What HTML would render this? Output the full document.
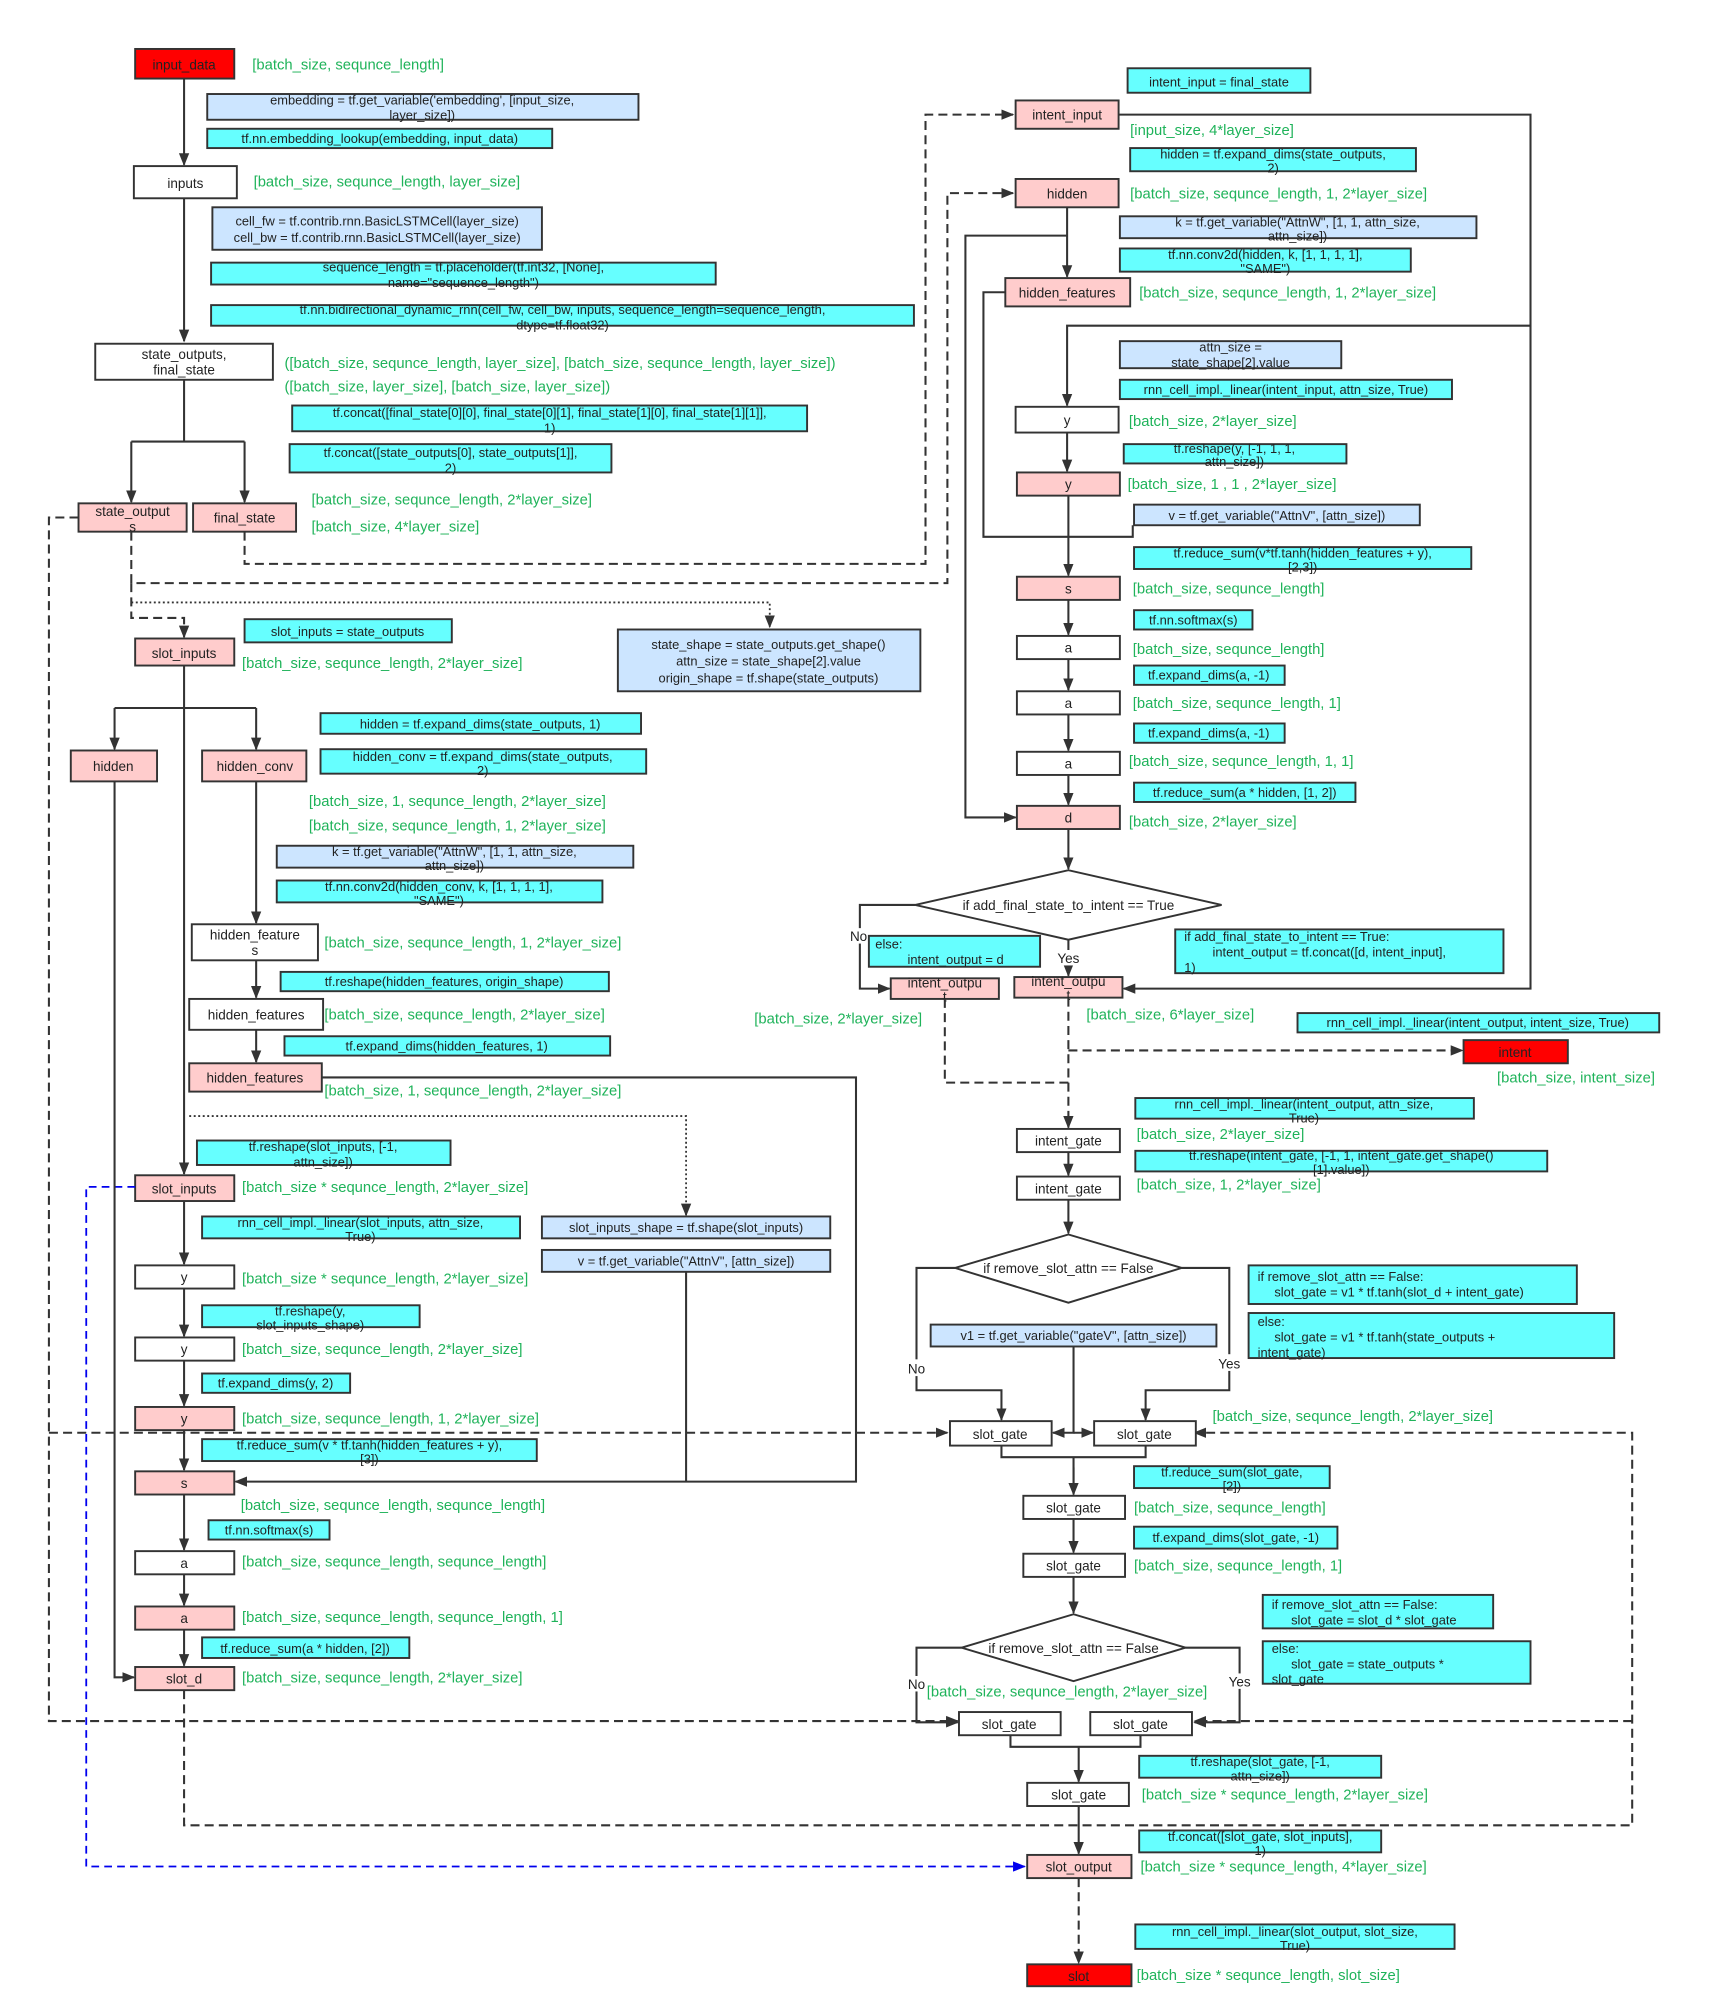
<!DOCTYPE html>
<html><head><meta charset="utf-8"><style>
html,body{margin:0;padding:0;background:#fff;width:1712px;height:2003px;overflow:hidden}
svg{display:block}
text{font-family:"Liberation Sans",sans-serif}
.g{fill:#1fb35a;font-size:11.5px}
.c{font-size:10px;fill:#222;text-anchor:middle}
.n{font-size:10.5px;fill:#222;text-anchor:middle}
.bx{stroke:#333;stroke-width:1.5}
.ln{stroke:#333;stroke-width:1.6;fill:none}
.ds{stroke:#333;stroke-width:1.6;fill:none;stroke-dasharray:7,4}
.dt{stroke:#333;stroke-width:1.4;fill:none;stroke-dasharray:1.5,2}
.bl{stroke:#0000ee;stroke-width:1.4;fill:none;stroke-dasharray:6,4}
.cy{fill:#66ffff}.lb{fill:#cce5ff}.pk{fill:#ffcccc}.rd{fill:#ff0000}.wh{fill:#fff}
</style></head><body>
<svg width="1712" height="2003" viewBox="0 0 1330 1556" xmlns="http://www.w3.org/2000/svg">
<defs>
<marker id="a" markerWidth="10" markerHeight="10" refX="9" refY="5" orient="auto" markerUnits="userSpaceOnUse"><path d="M0,1 L10,5 L0,9 z" fill="#333"/></marker>
<marker id="ab" markerWidth="10" markerHeight="10" refX="9" refY="5" orient="auto" markerUnits="userSpaceOnUse"><path d="M0,1 L10,5 L0,9 z" fill="#0000ee"/></marker>
</defs>

<!-- ============ LEFT COLUMN ============ -->
<path class="ln" d="M143,61 V128" marker-end="url(#a)"/>
<path class="ln" d="M143,154 V265" marker-end="url(#a)"/>
<path class="ln" d="M143,295 V343 M102,343 H190"/>
<path class="ln" d="M102,343 V390" marker-end="url(#a)"/>
<path class="ln" d="M190,343 V390" marker-end="url(#a)"/>

<rect class="bx rd" x="105" y="38" width="77" height="23"/><text class="n" x="143" y="54" fill="#222">input_data</text>
<text class="g" x="196" y="54">[batch_size, sequnce_length]</text>
<rect class="bx lb" x="161" y="73" width="335" height="20"/><text class="c" x="328" y="81">embedding = tf.get_variable('embedding', [input_size,</text><text class="c" x="328" y="93">layer_size])</text>
<rect class="bx cy" x="161" y="100" width="268" height="15"/><text class="c" x="295" y="111">tf.nn.embedding_lookup(embedding, input_data)</text>
<rect class="bx wh" x="104" y="129" width="80" height="25"/><text class="n" x="144" y="146">inputs</text>
<text class="g" x="197" y="145">[batch_size, sequnce_length, layer_size]</text>
<rect class="bx lb" x="165" y="161" width="256" height="33"/><text class="c" x="293" y="175">cell_fw = tf.contrib.rnn.BasicLSTMCell(layer_size)</text><text class="c" x="293" y="188">cell_bw = tf.contrib.rnn.BasicLSTMCell(layer_size)</text>
<rect class="bx cy" x="164" y="204" width="392" height="17"/><text class="c" x="360" y="211">sequence_length = tf.placeholder(tf.int32, [None],</text><text class="c" x="360" y="223">name="sequence_length")</text>
<rect class="bx cy" x="164" y="237" width="546" height="16"/><text class="c" x="437" y="244">tf.nn.bidirectional_dynamic_rnn(cell_fw, cell_bw, inputs, sequence_length=sequence_length,</text><text class="c" x="437" y="256">dtype=tf.float32)</text>
<rect class="bx wh" x="74" y="267" width="138" height="28"/><text class="n" x="143" y="279">state_outputs,</text><text class="n" x="143" y="291">final_state</text>
<text class="g" x="221" y="286">([batch_size, sequnce_length, layer_size],   [batch_size, sequnce_length, layer_size])</text>
<text class="g" x="221" y="304">([batch_size, layer_size],   [batch_size, layer_size])</text>
<rect class="bx cy" x="227" y="315" width="400" height="20"/><text class="c" x="427" y="324">tf.concat([final_state[0][0], final_state[0][1], final_state[1][0], final_state[1][1]],</text><text class="c" x="427" y="336">1)</text>
<rect class="bx cy" x="225" y="345" width="250" height="22"/><text class="c" x="350" y="355">tf.concat([state_outputs[0], state_outputs[1]],</text><text class="c" x="350" y="367">2)</text>
<rect class="bx pk" x="61" y="391" width="84" height="22"/><text class="n" x="103" y="401">state_output</text><text class="n" x="103" y="413">s</text>
<rect class="bx pk" x="150" y="391" width="80" height="22"/><text class="n" x="190" y="406">final_state</text>
<text class="g" x="242" y="392">[batch_size, sequnce_length, 2*layer_size]</text>
<text class="g" x="242" y="413">[batch_size, 4*layer_size]</text>

<!-- dashed connectors from state_outputs/final_state -->
<path class="ds" d="M190,413 V438 H719 V89 H787" marker-end="url(#a)"/>
<path class="ds" d="M102,413 V453 H736 V150 H787" marker-end="url(#a)"/>
<path class="ds" d="M102,453 V480 H143 V495" marker-end="url(#a)"/>
<path class="dt" d="M102,468 H598 V487" marker-end="url(#a)"/>
<path class="ds" d="M61,402 H38 V1337 H744" marker-end="url(#a)"/>
<path class="ds" d="M38,1113 H736" marker-end="url(#a)"/>

<rect class="bx cy" x="190" y="481" width="161" height="18"/><text class="c" x="270" y="494">slot_inputs = state_outputs</text>
<rect class="bx lb" x="480" y="489" width="235" height="48"/><text class="c" x="597" y="504">state_shape = state_outputs.get_shape()</text><text class="c" x="597" y="517">attn_size = state_shape[2].value</text><text class="c" x="597" y="530">origin_shape = tf.shape(state_outputs)</text>
<rect class="bx pk" x="105" y="496" width="77" height="21"/><text class="n" x="143" y="511">slot_inputs</text>
<text class="g" x="188" y="519">[batch_size, sequnce_length, 2*layer_size]</text>

<path class="ln" d="M143,517 V912" marker-end="url(#a)"/>
<path class="ln" d="M89,550 H199"/>
<path class="ln" d="M89,550 V582" marker-end="url(#a)"/>
<path class="ln" d="M199,550 V582" marker-end="url(#a)"/>
<rect class="bx pk" x="55" y="583" width="67" height="24"/><text class="n" x="88" y="599">hidden</text>
<rect class="bx pk" x="157" y="583" width="81" height="24"/><text class="n" x="198" y="599">hidden_conv</text>
<rect class="bx cy" x="249" y="554" width="249" height="16"/><text class="c" x="373" y="566">hidden = tf.expand_dims(state_outputs, 1)</text>
<rect class="bx cy" x="249" y="582" width="253" height="19"/><text class="c" x="375" y="591">hidden_conv = tf.expand_dims(state_outputs,</text><text class="c" x="375" y="602">2)</text>
<text class="g" x="240" y="626">[batch_size, 1, sequnce_length, 2*layer_size]</text>
<text class="g" x="240" y="645">[batch_size, sequnce_length, 1, 2*layer_size]</text>
<rect class="bx lb" x="215" y="657" width="277" height="17"/><text class="c" x="353" y="665">k = tf.get_variable("AttnW", [1, 1, attn_size,</text><text class="c" x="353" y="676">attn_size])</text>
<rect class="bx cy" x="215" y="684" width="253" height="17"/><text class="c" x="341" y="692">tf.nn.conv2d(hidden_conv, k, [1, 1, 1, 1],</text><text class="c" x="341" y="703">"SAME")</text>
<path class="ln" d="M199,607 V717" marker-end="url(#a)"/>
<rect class="bx wh" x="149" y="718" width="98" height="28"/><text class="n" x="198" y="730">hidden_feature</text><text class="n" x="198" y="742">s</text>
<text class="g" x="252" y="736">[batch_size, sequnce_length, 1, 2*layer_size]</text>
<rect class="bx cy" x="218" y="755" width="255" height="15"/><text class="c" x="345" y="766">tf.reshape(hidden_features, origin_shape)</text>
<path class="ln" d="M199,746 V775" marker-end="url(#a)"/>
<rect class="bx wh" x="147" y="776" width="104" height="24"/><text class="n" x="199" y="792">hidden_features</text>
<text class="g" x="252" y="792">[batch_size, sequnce_length, 2*layer_size]</text>
<rect class="bx cy" x="221" y="805" width="253" height="15"/><text class="c" x="347" y="816">tf.expand_dims(hidden_features, 1)</text>
<path class="ln" d="M199,800 V825" marker-end="url(#a)"/>
<rect class="bx pk" x="147" y="826" width="103" height="22"/><text class="n" x="198" y="841">hidden_features</text>
<text class="g" x="252" y="851">[batch_size, 1, sequnce_length, 2*layer_size]</text>
<path class="ln" d="M250,837 H665 V1151 H183" marker-end="url(#a)"/>
<path class="dt" d="M147,867 H533 V944" marker-end="url(#a)"/>

<rect class="bx cy" x="153" y="886" width="197" height="19"/><text class="c" x="251" y="894">tf.reshape(slot_inputs, [-1,</text><text class="c" x="251" y="906">attn_size])</text>
<rect class="bx pk" x="105" y="913" width="77" height="20"/><text class="n" x="143" y="927">slot_inputs</text>
<text class="g" x="188" y="926">[batch_size * sequnce_length, 2*layer_size]</text>
<path class="bl" d="M105,922 H67 V1450 H796" marker-end="url(#ab)"/>
<rect class="bx lb" x="421" y="945" width="224" height="17"/><text class="c" x="533" y="957">slot_inputs_shape = tf.shape(slot_inputs)</text>
<rect class="bx lb" x="421" y="971" width="224" height="17"/><text class="c" x="533" y="983">v = tf.get_variable("AttnV", [attn_size])</text>
<path class="ln" d="M533,988 V1151"/>
<rect class="bx cy" x="157" y="945" width="247" height="17"/><text class="c" x="280" y="953">rnn_cell_impl._linear(slot_inputs, attn_size,</text><text class="c" x="280" y="964">True)</text>
<path class="ln" d="M143,933 V982" marker-end="url(#a)"/>
<rect class="bx wh" x="105" y="983" width="77" height="18"/><text class="n" x="143" y="996">y</text>
<text class="g" x="188" y="997">[batch_size * sequnce_length, 2*layer_size]</text>
<rect class="bx cy" x="157" y="1014" width="169" height="17"/><text class="c" x="241" y="1022">tf.reshape(y,</text><text class="c" x="241" y="1033">slot_inputs_shape)</text>
<path class="ln" d="M143,1001 V1038" marker-end="url(#a)"/>
<rect class="bx wh" x="105" y="1039" width="77" height="18"/><text class="n" x="143" y="1052">y</text>
<text class="g" x="188" y="1052">[batch_size, sequnce_length, 2*layer_size]</text>
<rect class="bx cy" x="157" y="1067" width="115" height="15"/><text class="c" x="214" y="1078">tf.expand_dims(y, 2)</text>
<path class="ln" d="M143,1057 V1092" marker-end="url(#a)"/>
<rect class="bx pk" x="105" y="1093" width="77" height="18"/><text class="n" x="143" y="1106">y</text>
<text class="g" x="188" y="1106">[batch_size, sequnce_length, 1, 2*layer_size]</text>
<rect class="bx cy" x="157" y="1118" width="260" height="17"/><text class="c" x="287" y="1126">tf.reduce_sum(v * tf.tanh(hidden_features + y),</text><text class="c" x="287" y="1137">[3])</text>
<path class="ln" d="M143,1111 V1142" marker-end="url(#a)"/>
<rect class="bx pk" x="105" y="1143" width="77" height="18"/><text class="n" x="143" y="1156">s</text>
<text class="g" x="187" y="1173">[batch_size, sequnce_length, sequnce_length]</text>
<rect class="bx cy" x="162" y="1181" width="94" height="15"/><text class="c" x="209" y="1192">tf.nn.softmax(s)</text>
<path class="ln" d="M143,1161 V1204" marker-end="url(#a)"/>
<rect class="bx wh" x="105" y="1205" width="77" height="18"/><text class="n" x="143" y="1218">a</text>
<text class="g" x="188" y="1217">[batch_size, sequnce_length, sequnce_length]</text>
<path class="ln" d="M143,1223 V1247" marker-end="url(#a)"/>
<rect class="bx pk" x="105" y="1248" width="77" height="18"/><text class="n" x="143" y="1261">a</text>
<text class="g" x="188" y="1260">[batch_size, sequnce_length, sequnce_length, 1]</text>
<rect class="bx cy" x="157" y="1272" width="161" height="16"/><text class="c" x="237" y="1284">tf.reduce_sum(a * hidden, [2])</text>
<path class="ln" d="M143,1266 V1294" marker-end="url(#a)"/>
<path class="ln" d="M89,607 V1303 H104" marker-end="url(#a)"/>
<rect class="bx pk" x="105" y="1295" width="77" height="18"/><text class="n" x="143" y="1308">slot_d</text>
<text class="g" x="188" y="1307">[batch_size, sequnce_length, 2*layer_size]</text>
<path class="ds" d="M143,1313 V1418 H1268 V1113 H928" marker-end="url(#a)"/>
<path class="ds" d="M1268,1337 H928" marker-end="url(#a)"/>

<!-- ============ RIGHT COLUMN ============ -->
<rect class="bx cy" x="876" y="53" width="142" height="19"/><text class="c" x="947" y="67">intent_input = final_state</text>
<rect class="bx pk" x="789" y="78" width="80" height="22"/><text class="n" x="829" y="93">intent_input</text>
<text class="g" x="878" y="105">[input_size, 4*layer_size]</text>
<path class="ln" d="M869,89 H1189 V768 H873" marker-end="url(#a)"/>
<path class="ln" d="M1189,253 H829 V315" marker-end="url(#a)"/>
<rect class="bx cy" x="878" y="115" width="222" height="18"/><text class="c" x="989" y="123">hidden = tf.expand_dims(state_outputs,</text><text class="c" x="989" y="134">2)</text>
<rect class="bx pk" x="789" y="139" width="80" height="22"/><text class="n" x="829" y="154">hidden</text>
<text class="g" x="878" y="154">[batch_size, sequnce_length, 1, 2*layer_size]</text>
<path class="ln" d="M829,161 V215" marker-end="url(#a)"/>
<path class="ln" d="M829,183 H750 V635 H789" marker-end="url(#a)"/>
<rect class="bx lb" x="870" y="168" width="277" height="17"/><text class="c" x="1008" y="176">k = tf.get_variable("AttnW", [1, 1, attn_size,</text><text class="c" x="1008" y="187">attn_size])</text>
<rect class="bx cy" x="870" y="193" width="226" height="18"/><text class="c" x="983" y="201">tf.nn.conv2d(hidden, k, [1, 1, 1, 1],</text><text class="c" x="983" y="212">"SAME")</text>
<rect class="bx pk" x="781" y="216" width="97" height="22"/><text class="n" x="829" y="231">hidden_features</text>
<text class="g" x="885" y="231">[batch_size, sequnce_length, 1, 2*layer_size]</text>
<path class="ln" d="M781,227 H764 V417 H880 V408"/>
<rect class="bx lb" x="870" y="265" width="172" height="21"/><text class="c" x="956" y="273">attn_size =</text><text class="c" x="956" y="285">state_shape[2].value</text>
<rect class="bx cy" x="870" y="295" width="258" height="15"/><text class="c" x="999" y="306">rnn_cell_impl._linear(intent_input, attn_size, True)</text>
<rect class="bx wh" x="789" y="316" width="80" height="20"/><text class="n" x="829" y="330">y</text>
<text class="g" x="877" y="331">[batch_size, 2*layer_size]</text>
<rect class="bx cy" x="873" y="345" width="173" height="15"/><text class="c" x="959" y="352">tf.reshape(y, [-1, 1, 1,</text><text class="c" x="959" y="362">attn_size])</text>
<path class="ln" d="M829,336 V366" marker-end="url(#a)"/>
<rect class="bx pk" x="790" y="367" width="80" height="18"/><text class="n" x="830" y="380">y</text>
<text class="g" x="876" y="380">[batch_size, 1 ,  1 ,  2*layer_size]</text>
<rect class="bx lb" x="881" y="392" width="222" height="16"/><text class="c" x="992" y="404">v = tf.get_variable("AttnV", [attn_size])</text>
<path class="ln" d="M830,385 V447" marker-end="url(#a)"/>
<rect class="bx cy" x="881" y="425" width="262" height="17"/><text class="c" x="1012" y="433">tf.reduce_sum(v*tf.tanh(hidden_features + y),</text><text class="c" x="1012" y="444">[2,3])</text>
<rect class="bx pk" x="790" y="448" width="80" height="18"/><text class="n" x="830" y="461">s</text>
<text class="g" x="880" y="461">[batch_size, sequnce_length]</text>
<rect class="bx cy" x="881" y="474" width="92" height="15"/><text class="c" x="927" y="485">tf.nn.softmax(s)</text>
<path class="ln" d="M830,466 V493" marker-end="url(#a)"/>
<rect class="bx wh" x="790" y="494" width="80" height="18"/><text class="n" x="830" y="507">a</text>
<text class="g" x="880" y="508">[batch_size, sequnce_length]</text>
<rect class="bx cy" x="881" y="517" width="117" height="15"/><text class="c" x="939" y="528">tf.expand_dims(a, -1)</text>
<path class="ln" d="M830,512 V536" marker-end="url(#a)"/>
<rect class="bx wh" x="790" y="537" width="80" height="18"/><text class="n" x="830" y="550">a</text>
<text class="g" x="880" y="550">[batch_size, sequnce_length, 1]</text>
<rect class="bx cy" x="881" y="562" width="117" height="15"/><text class="c" x="939" y="573">tf.expand_dims(a, -1)</text>
<path class="ln" d="M830,555 V583" marker-end="url(#a)"/>
<rect class="bx wh" x="790" y="584" width="80" height="18"/><text class="n" x="830" y="597">a</text>
<text class="g" x="877" y="595">[batch_size, sequnce_length, 1, 1]</text>
<rect class="bx cy" x="881" y="608" width="172" height="15"/><text class="c" x="967" y="619">tf.reduce_sum(a * hidden, [1, 2])</text>
<path class="ln" d="M830,602 V625" marker-end="url(#a)"/>
<rect class="bx pk" x="790" y="626" width="80" height="18"/><text class="n" x="830" y="639">d</text>
<text class="g" x="877" y="642">[batch_size, 2*layer_size]</text>
<path class="ln" d="M830,644 V675" marker-end="url(#a)"/>
<polygon class="bx wh" points="711,703 830,676 949,703 830,730"/>
<text class="n" x="830" y="707">if add_final_state_to_intent == True</text>
<path class="ln" d="M711,703 H668 V768 H691" marker-end="url(#a)"/>
<path class="ln" d="M830,730 V758" marker-end="url(#a)"/>
<rect class="wh" x="658" y="721" width="18" height="12"/><text class="n" x="667" y="731">No</text>
<rect class="wh" x="820" y="738" width="20" height="12"/><text class="n" x="830" y="748">Yes</text>
<rect class="bx cy" x="675" y="727" width="133" height="24"/><text class="c" x="680" y="737" text-anchor="start" style="text-anchor:start">else:</text><text class="c" x="705" y="749" style="text-anchor:start">intent_output = d</text>
<rect class="bx cy" x="913" y="722" width="255" height="34"/><text class="c" x="920" y="731" style="text-anchor:start">if add_final_state_to_intent == True:</text><text class="c" x="942" y="743" style="text-anchor:start">intent_output = tf.concat([d, intent_input],</text><text class="c" x="920" y="755" style="text-anchor:start">1)</text>
<rect class="bx pk" x="692" y="760" width="84" height="16"/><text class="n" x="734" y="767">intent_outpu</text><text class="n" x="734" y="778">t</text>
<rect class="bx pk" x="788" y="759" width="84" height="16"/><text class="n" x="830" y="766">intent_outpu</text><text class="n" x="830" y="777">t</text>
<text class="g" x="586" y="795">[batch_size, 2*layer_size]</text>
<text class="g" x="844" y="792">[batch_size, 6*layer_size]</text>
<path class="ds" d="M734,776 V841 H830"/>
<path class="ds" d="M830,775 V876" marker-end="url(#a)"/>
<path class="ds" d="M830,816 H1136" marker-end="url(#a)"/>
<rect class="bx cy" x="1008" y="787" width="281" height="15"/><text class="c" x="1148" y="798">rnn_cell_impl._linear(intent_output, intent_size, True)</text>
<rect class="bx rd" x="1137" y="808" width="81" height="18"/><text class="n" x="1177" y="821">intent</text>
<text class="g" x="1163" y="841">[batch_size, intent_size]</text>
<rect class="bx cy" x="882" y="853" width="263" height="16"/><text class="c" x="1013" y="861">rnn_cell_impl._linear(intent_output, attn_size,</text><text class="c" x="1013" y="872">True)</text>
<rect class="bx wh" x="790" y="877" width="80" height="18"/><text class="n" x="830" y="890">intent_gate</text>
<text class="g" x="883" y="885">[batch_size, 2*layer_size]</text>
<rect class="bx cy" x="882" y="894" width="320" height="16"/><text class="c" x="1042" y="901">tf.reshape(intent_gate, [-1, 1, intent_gate.get_shape()</text><text class="c" x="1042" y="912">[1].value])</text>
<path class="ln" d="M830,895 V913" marker-end="url(#a)"/>
<rect class="bx wh" x="790" y="914" width="80" height="18"/><text class="n" x="830" y="927">intent_gate</text>
<text class="g" x="883" y="924">[batch_size, 1, 2*layer_size]</text>
<path class="ln" d="M830,932 V958" marker-end="url(#a)"/>
<polygon class="bx wh" points="742,985 830,959 918,985 830,1012"/>
<text class="n" x="830" y="989">if remove_slot_attn == False</text>
<rect class="bx lb" x="723" y="1029" width="222" height="17"/><text class="c" x="834" y="1041">v1 = tf.get_variable("gateV", [attn_size])</text>
<rect class="bx cy" x="970" y="983" width="255" height="30"/><text class="c" x="977" y="995" style="text-anchor:start">if remove_slot_attn == False:</text><text class="c" x="990" y="1007" style="text-anchor:start">slot_gate = v1 * tf.tanh(slot_d + intent_gate)</text>
<rect class="bx cy" x="970" y="1020" width="284" height="35"/><text class="c" x="977" y="1030" style="text-anchor:start">else:</text><text class="c" x="990" y="1042" style="text-anchor:start">slot_gate = v1 * tf.tanh(state_outputs +</text><text class="c" x="977" y="1054" style="text-anchor:start">intent_gate)</text>
<path class="ln" d="M742,985 H712 V1080 H778 V1103" marker-end="url(#a)"/>
<path class="ln" d="M918,985 H955 V1080 H890 V1103" marker-end="url(#a)"/>
<rect class="wh" x="702" y="1056" width="20" height="13"/><text class="n" x="712" y="1067">No</text>
<rect class="wh" x="944" y="1052" width="22" height="13"/><text class="n" x="955" y="1063">Yes</text>
<path class="ln" d="M834,1046 V1113 H818" marker-end="url(#a)"/>
<path class="ln" d="M834,1113 H849" marker-end="url(#a)"/>
<rect class="bx wh" x="738" y="1104" width="79" height="19"/><text class="n" x="777" y="1118">slot_gate</text>
<rect class="bx wh" x="850" y="1104" width="79" height="19"/><text class="n" x="889" y="1118">slot_gate</text>
<text class="g" x="942" y="1104">[batch_size, sequnce_length, 2*layer_size]</text>
<path class="ln" d="M778,1123 V1132 H890 V1123 M834,1132 V1161"/>
<path class="ln" d="M834,1140 V1161" marker-end="url(#a)"/>
<rect class="bx cy" x="881" y="1139" width="152" height="17"/><text class="c" x="957" y="1147">tf.reduce_sum(slot_gate,</text><text class="c" x="957" y="1158">[2])</text>
<rect class="bx wh" x="795" y="1162" width="79" height="18"/><text class="n" x="834" y="1175">slot_gate</text>
<text class="g" x="881" y="1175">[batch_size, sequnce_length]</text>
<rect class="bx cy" x="881" y="1186" width="158" height="17"/><text class="c" x="960" y="1198">tf.expand_dims(slot_gate, -1)</text>
<path class="ln" d="M834,1180 V1206" marker-end="url(#a)"/>
<rect class="bx wh" x="795" y="1207" width="79" height="18"/><text class="n" x="834" y="1220">slot_gate</text>
<text class="g" x="881" y="1220">[batch_size, sequnce_length, 1]</text>
<path class="ln" d="M834,1225 V1253" marker-end="url(#a)"/>
<polygon class="bx wh" points="747,1280 834,1254 921,1280 834,1306"/>
<text class="n" x="834" y="1284">if remove_slot_attn == False</text>
<rect class="bx cy" x="981" y="1239" width="179" height="26"/><text class="c" x="988" y="1250" style="text-anchor:start">if remove_slot_attn == False:</text><text class="c" x="1003" y="1262" style="text-anchor:start">slot_gate = slot_d * slot_gate</text>
<rect class="bx cy" x="981" y="1275" width="208" height="33"/><text class="c" x="988" y="1284" style="text-anchor:start">else:</text><text class="c" x="1003" y="1296" style="text-anchor:start">slot_gate = state_outputs *</text><text class="c" x="988" y="1308" style="text-anchor:start">slot_gate</text>
<path class="ln" d="M747,1280 H712 V1338 H744" marker-end="url(#a)"/>
<path class="ln" d="M921,1280 H963 V1338 H928" marker-end="url(#a)"/>
<rect class="wh" x="703" y="1302" width="18" height="12"/><text class="n" x="712" y="1312">No</text>
<rect class="wh" x="953" y="1300" width="20" height="12"/><text class="n" x="963" y="1310">Yes</text>
<text class="g" x="720" y="1318">[batch_size, sequnce_length, 2*layer_size]</text>
<rect class="bx wh" x="745" y="1330" width="79" height="18"/><text class="n" x="784" y="1343">slot_gate</text>
<rect class="bx wh" x="847" y="1330" width="79" height="18"/><text class="n" x="886" y="1343">slot_gate</text>
<path class="ln" d="M785,1348 V1357 H886 V1348"/>
<path class="ln" d="M838,1357 V1384" marker-end="url(#a)"/>
<rect class="bx cy" x="885" y="1364" width="188" height="17"/><text class="c" x="979" y="1372">tf.reshape(slot_gate, [-1,</text><text class="c" x="979" y="1383">attn_size])</text>
<rect class="bx wh" x="798" y="1385" width="79" height="18"/><text class="n" x="838" y="1398">slot_gate</text>
<text class="g" x="887" y="1398">[batch_size * sequnce_length, 2*layer_size]</text>
<path class="ln" d="M838,1403 V1440" marker-end="url(#a)"/>
<rect class="bx cy" x="885" y="1422" width="188" height="17"/><text class="c" x="979" y="1430">tf.concat([slot_gate, slot_inputs],</text><text class="c" x="979" y="1441">1)</text>
<rect class="bx pk" x="798" y="1441" width="81" height="18"/><text class="n" x="838" y="1454">slot_output</text>
<text class="g" x="886" y="1454">[batch_size * sequnce_length, 4*layer_size]</text>
<path class="ds" d="M838,1459 V1525" marker-end="url(#a)"/>
<rect class="bx cy" x="882" y="1495" width="248" height="19"/><text class="c" x="1006" y="1504">rnn_cell_impl._linear(slot_output, slot_size,</text><text class="c" x="1006" y="1515">True)</text>
<rect class="bx rd" x="798" y="1526" width="81" height="17"/><text class="n" x="838" y="1539">slot</text>
<text class="g" x="883" y="1538">[batch_size * sequnce_length, slot_size]</text>
</svg>
</body></html>
